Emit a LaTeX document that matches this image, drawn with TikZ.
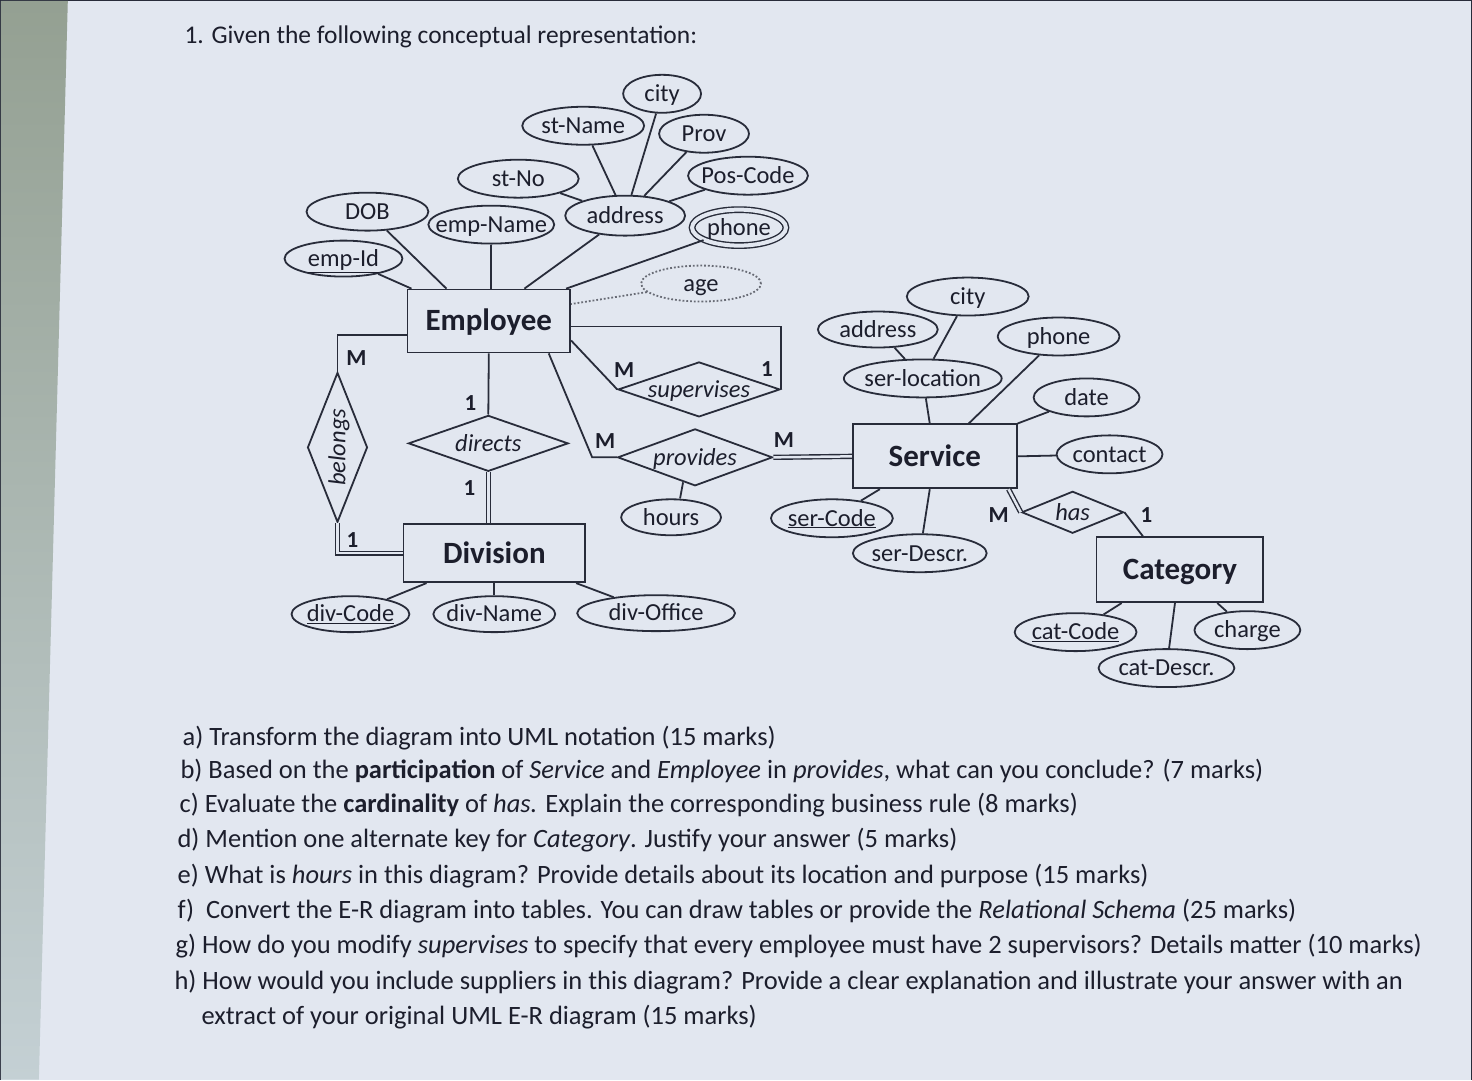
\documentclass[tikz,border=0pt]{standalone}
\usepackage{fontspec}
\setmainfont{Carlito}
\usetikzlibrary{shapes.geometric,calc}
\definecolor{bg}{RGB}{226,231,240}
\definecolor{ink}{RGB}{28,30,44}
\definecolor{ln}{RGB}{40,44,58}
\definecolor{stripA}{RGB}{148,160,146}
\definecolor{stripB}{RGB}{196,208,212}
\newcommand\ctr[1]{\makebox[0pt]{\smash{\raisebox{-0.32em}{#1}}}}
\newcommand\afont{\fontsize{24.5}{29}\selectfont}
\newcommand\efont{\fontsize{31}{36}\selectfont\bfseries}
\newcommand\qfont{\fontsize{26.5}{31}\selectfont}
\newcommand\tfont{\fontsize{25.5}{30}\selectfont}
\newcommand\cfont{\fontsize{23}{27}\selectfont\bfseries}
\begin{document}
\begin{tikzpicture}[x=1pt,y=-1pt,line width=1.8pt,
  every path/.style={draw=ln},
  attr/.style={ellipse,draw=ln,line width=1.8pt,inner sep=0pt,font=\afont,text=ink},
  ent/.style={rectangle,draw=ln,line width=1.8pt,inner sep=0pt,font=\efont,text=ink},
  rel/.style={diamond,draw=ln,line width=1.8pt,inner sep=0pt,font=\afont\itshape,text=ink},
  card/.style={inner sep=0pt,font=\cfont,text=ink},
  dbl/.style={double=bg,double distance=2.5pt,line width=1.4pt},
  qline/.style={anchor=base west,inner sep=0pt,font=\qfont,text=ink}]
\useasboundingbox (0,0) rectangle (1472,1080);
\fill[bg,draw=none] (0,0) rectangle (1472,1080);
\shade[top color=stripA,bottom color=stripB,draw=none] (0,0) -- (67,0) -- (38,1080) -- (0,1080) -- cycle;

% title
\node[qline,font=\tfont] (title) at (183,43) {1. Given the following conceptual representation:};

% entities
\node[ent,minimum width=163,minimum height=63] (E) at (488.5,320.5) {\ctr{Employee}};
\node[ent,minimum width=182,minimum height=58] (D) at (494,553) {\ctr{Division}};
\node[ent,minimum width=164,minimum height=64] (S) at (935,456) {\ctr{Service}};
\node[ent,minimum width=167,minimum height=65] (C) at (1180.5,569.5) {\ctr{Category}};

% relationships
\node[rel,minimum width=160,minimum height=56] (directs) at (488,443) {\ctr{directs}};
\node[rel,rotate=90,minimum width=150,minimum height=60] (belongs) at (337,447) {\ctr{belongs}};
\node[rel,minimum width=162,minimum height=55] (sup) at (699,389) {\ctr{supervises}};
\node[rel,minimum width=155,minimum height=57] (prov) at (695,457) {\ctr{provides}};
\node[rel,minimum width=102,minimum height=42] (has) at (1073,512) {\ctr{has}};

% Employee attributes
\node[attr,minimum width=78,minimum height=38] (city1) at (662,93) {\ctr{city}};
\node[attr,minimum width=122,minimum height=38] (stname) at (583,125) {\ctr{st-Name}};
\node[attr,minimum width=90,minimum height=38] (prov1) at (704,133) {\ctr{Prov}};
\node[attr,minimum width=120,minimum height=38] (pos) at (748,175) {\ctr{Pos-Code}};
\node[attr,minimum width=121,minimum height=38] (stno) at (518,178) {\ctr{st-No}};
\node[attr,minimum width=122,minimum height=38] (dob) at (367,211) {\ctr{DOB}};
\node[attr,minimum width=126,minimum height=38] (empname) at (491,224) {\ctr{emp-Name}};
\node[attr,minimum width=120,minimum height=40] (addr1) at (625,215) {\ctr{address}};
\node[attr,double=bg,double distance=4pt,line width=1.4pt,minimum width=94,minimum height=36] (phone1) at (739,227) {\ctr{phone}};
\node[attr,minimum width=118,minimum height=36] (empid) at (343,258) {\ctr{\underline{emp-Id}}};
\node[attr,dotted,draw=ln!70,minimum width=120,minimum height=36] (age) at (701,283) {\ctr{age}};

% Division attributes
\node[attr,minimum width=118,minimum height=36] (divcode) at (350,614) {\ctr{\underline{div-Code}}};
\node[attr,minimum width=122,minimum height=36] (divname) at (494,614) {\ctr{div-Name}};
\node[attr,minimum width=158,minimum height=36] (divoff) at (656,613) {\ctr{div-Office}};
\node[attr,minimum width=100,minimum height=36] (hours) at (671,517) {\ctr{hours}};

% Service attributes
\node[attr,minimum width=122,minimum height=38] (city2) at (968,296) {\ctr{city}};
\node[attr,minimum width=120,minimum height=36] (addr2) at (878,329) {\ctr{address}};
\node[attr,minimum width=122,minimum height=38] (phone2) at (1059,336) {\ctr{phone}};
\node[attr,minimum width=158,minimum height=38] (serloc) at (923,378) {\ctr{ser-location}};
\node[attr,minimum width=106,minimum height=38] (date) at (1087,397) {\ctr{date}};
\node[attr,minimum width=106,minimum height=38] (contact) at (1110,454) {\ctr{contact}};
\node[attr,minimum width=122,minimum height=38] (sercode) at (832,518) {\ctr{\underline{ser-Code}}};
\node[attr,minimum width=134,minimum height=38] (serdescr) at (920,553) {\ctr{ser-Descr.}};

% Category attributes
\node[attr,minimum width=122,minimum height=38] (catcode) at (1076,632) {\ctr{\underline{cat-Code}}};
\node[attr,minimum width=106,minimum height=38] (charge) at (1248,630) {\ctr{charge}};
\node[attr,minimum width=136,minimum height=38] (catdescr) at (1167,668) {\ctr{cat-Descr.}};

% Employee attribute connectors
\draw (empid) -- ([xshift=5]E.north west);
\draw (dob) -- ([xshift=40]E.north west);
\draw (empname) -- (empname |- E.north);
\draw (addr1) -- ([xshift=118]E.north west);
\draw (phone1) -- ([xshift=-5]E.north east);
\draw[dotted,draw=ln!70] (age) -- ([yshift=17]E.east);
\draw (stno) -- (addr1);
\draw (stname) -- (addr1);
\draw (city1) -- (addr1);
\draw (prov1) -- (addr1);
\draw (pos) -- (addr1);

% Division attribute connectors
\draw (divcode) -- ([xshift=24]D.south west);
\draw (divname) -- (D.south);
\draw (divoff) -- ([xshift=-10]D.south east);

% relationships
\draw (E.south) -- (directs.north);
\draw[dbl] (directs.south) -- (directs.south |- D.north);
\draw ([yshift=-14]E.west) -| (belongs.east);
\draw[dbl] (belongs.west) |- (D.west);
\draw ([yshift=-5.5]E.east) -| (sup.east);
\draw ([yshift=-19.5]E.east) -- (sup.west);
\coordinate (pbend) at (592,457);
\draw ([xshift=60]E.south) -- (pbend) -- (prov.west);
\draw[dbl] (prov.east) -- (S.west);
\draw ([xshift=9]hours.north) -- ([xshift=-12,yshift=4.4]prov.south);

% Service connectors
\draw (addr2) -- (serloc);
\draw (city2) -- (serloc);
\draw (serloc) -- ([xshift=-5]S.north);
\draw (phone2) -- ([xshift=34]S.north);
\draw (date) -- (S.north east);
\draw (contact) -- (S.east);
\draw (sercode) -- ([xshift=-55]S.south);
\draw (serdescr) -- ([xshift=-5]S.south);
\draw[dbl] ([xshift=-9]S.south east) -- (has.west);
\draw (has.east) -- ([xshift=-37]C.north);

% Category connectors
\draw (catcode) -- ([xshift=26]C.south west);
\draw (catdescr) -- ([xshift=-5]C.south);
\draw (charge) -- ([xshift=-47]C.south east);

% cardinalities
\node[card] (cM1) at (356,358) {M};
\node[card] (c11) at (352,540) {1};
\node[card] (c12) at (470,403) {1};
\node[card] (c13) at (469,488) {1};
\node[card] (cM2) at (624,370) {M};
\node[card] (c14) at (767,369) {1};
\node[card] (cM3) at (605,441) {M};
\node[card] (cM4) at (784,440) {M};
\node[card] (cM5) at (999,515) {M};
\node[card] (c15) at (1147,515) {1};

% questions
\node[qline] (qa) at (181,745) {a) Transform the diagram into UML notation (15 marks)};
\node[qline] (qb) at (179,779) {b) Based on the \textbf{participation} of \textit{Service} and \textit{Employee} in \textit{provides}, what can you conclude? (7 marks)};
\node[qline] (qc) at (178,813) {c) Evaluate the \textbf{cardinality} of \textit{has.} Explain the corresponding business rule (8 marks)};
\node[qline] (qd) at (176,848) {d) Mention one alternate key for \textit{Category}. Justify your answer (5 marks)};
\node[qline] (qe) at (176,884) {e) What is \textit{hours} in this diagram? Provide details about its location and purpose (15 marks)};
\node[qline] (qf) at (176,919) {f)\ \ Convert the E-R diagram into tables. You can draw tables or provide the \textit{Relational Schema} (25 marks)};
\node[qline] (qg) at (174,954) {g) How do you modify \textit{supervises} to specify that every employee must have 2 supervisors? Details matter (10 marks)};
\node[qline] (qh) at (173,990) {h) How would you include suppliers in this diagram? Provide a clear explanation and illustrate your answer with an};
\node[qline] (qh2) at (200,1025) {extract of your original UML E-R diagram (15 marks)};
\end{tikzpicture}
\end{document}
